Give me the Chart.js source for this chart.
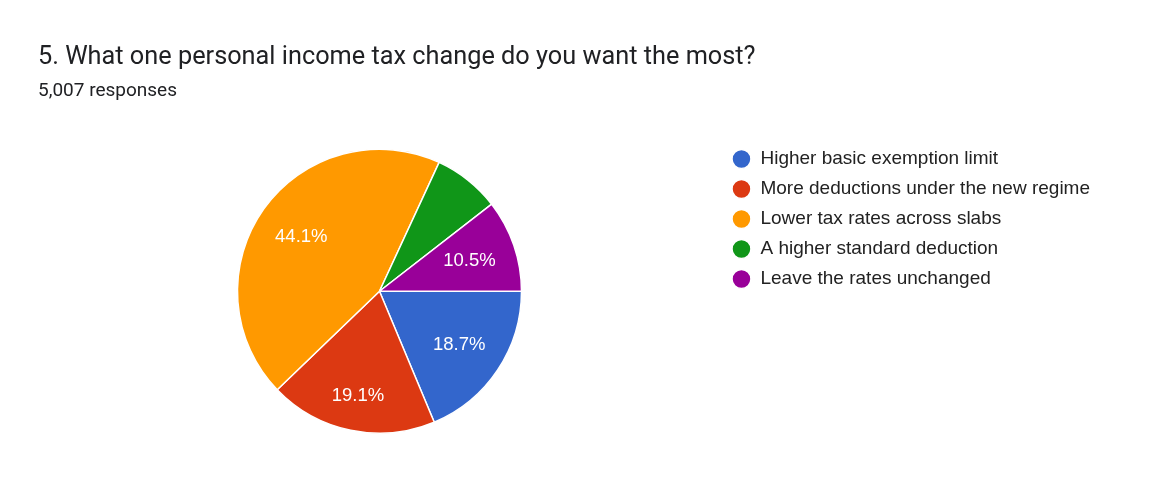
<!DOCTYPE html>
<html>
<head>
<meta charset="utf-8">
<script src="https://cdn.jsdelivr.net/npm/chart.js@4"></script>
<style>
  html, body { margin: 0; padding: 0; background: #fff; }
  #wrap { width: 1160px; height: 488px; }
</style>
</head>
<body>
<div id="wrap"><canvas id="pieChart" width="1160" height="488"></canvas></div>
<script>
const questionTitle = "5. What one personal income tax change do you want the most?";
const responseCount = 5007;
const categories = [
  "Higher basic exemption limit",
  "More deductions under the new regime",
  "Lower tax rates across slabs",
  "A higher standard deduction",
  "Leave the rates unchanged",
];
const shares = [18.7, 19.1, 44.1, 7.6, 10.5];
const sliceColors = ["#3366cc", "#dc3912", "#ff9900", "#109618", "#990099"];

// percent text inside the slices (small slices stay blank, like the original).
// the text box is pushed out along the bisector until its far corner sits at ~0.866 r
const sliceLabels = {
  id: "sliceLabels",
  afterDatasetsDraw(chart) {
    const ctx = chart.ctx;
    const meta = chart.getDatasetMeta(0);
    const fontSize = 18.5;
    ctx.save();
    ctx.fillStyle = "#ffffff";
    ctx.font = fontSize + 'px Arial, "Liberation Sans", sans-serif';
    ctx.textAlign = "center";
    ctx.textBaseline = "middle";
    meta.data.forEach((arc, i) => {
      if (shares[i] < 9) return;
      const text = shares[i].toFixed(1) + "%";
      const mid = (arc.startAngle + arc.endAngle) / 2;
      const c = Math.cos(mid);
      const s = Math.sin(mid);
      const hw = ctx.measureText(text).width / 2;
      const hh = fontSize / 2;
      const rt = arc.outerRadius * 0.866;
      const b = Math.abs(c) * hw + Math.abs(s) * hh;
      const d = -b + Math.sqrt(b * b - (hw * hw + hh * hh - rt * rt));
      ctx.fillText(text, arc.x + c * d, arc.y + s * d + 1);
    });
    ctx.restore();
  },
};

const ctx = document.getElementById("pieChart").getContext("2d");
new Chart(ctx, {
  type: "pie",
  data: {
    labels: categories,
    datasets: [
      {
        data: shares,
        backgroundColor: sliceColors,
        borderColor: "#ffffff",
        borderWidth: 1.5,
        radius: 142,
      },
    ],
  },
  options: {
    responsive: false,
    animation: false,
    rotation: 90,
    layout: {
      padding: { left: 38, right: 60, top: 42, bottom: 44 },
    },
    plugins: {
      title: {
        display: true,
        text: questionTitle,
        align: "start",
        color: "#202124",
        font: { family: "Roboto", size: 25.3, weight: "normal" },
        padding: { top: 0, bottom: 7 },
      },
      subtitle: {
        display: true,
        text: responseCount.toLocaleString("en-US") + " responses",
        align: "start",
        color: "#202124",
        font: { family: "Roboto", size: 19, weight: "normal" },
        padding: { top: 0, bottom: 36.3 },
      },
      legend: {
        position: "right",
        align: "start",
        fullSize: false,
        labels: {
          usePointStyle: true,
          pointStyle: "circle",
          boxWidth: 19,
          boxHeight: 13.4,
          padding: 11,
          color: "#222222",
          font: { family: 'Arial, "Liberation Sans", sans-serif', size: 19 },
        },
      },
      tooltip: { enabled: false },
    },
  },
  plugins: [sliceLabels],
});
</script>
</body>
</html>
